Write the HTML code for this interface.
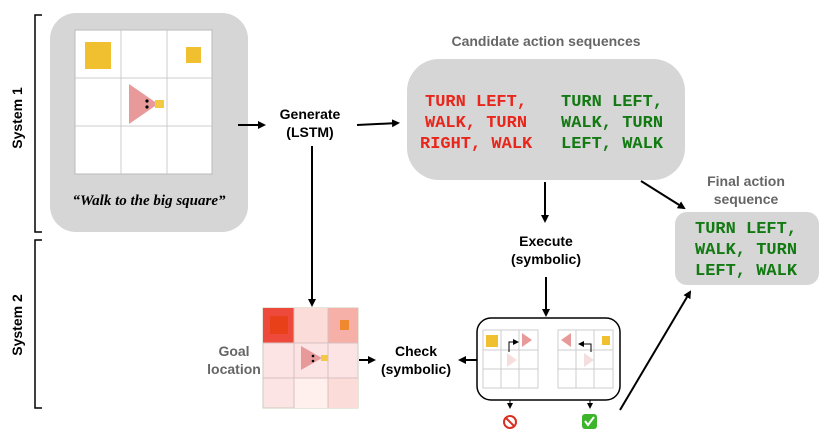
<!DOCTYPE html>
<html><head><style>body{margin:0;background:#fff}svg{display:block}</style></head><body>
<svg width="831" height="442" viewBox="0 0 831 442" xmlns="http://www.w3.org/2000/svg" font-family="Liberation Sans, sans-serif">
<defs><marker id="a" markerWidth="8" markerHeight="8" refX="6" refY="4" orient="auto" markerUnits="userSpaceOnUse"><path d="M0,0 L8,4 L0,8 z" fill="#000"/></marker>
<marker id="s" markerWidth="6" markerHeight="6" refX="5" refY="3" orient="auto" markerUnits="userSpaceOnUse"><path d="M0,0 L6,3 L0,6 z" fill="#000"/></marker></defs>
<path d="M42,15 H35 V232 H42" fill="none" stroke="#000" stroke-width="1.5"/>
<path d="M42,240 H35 V408 H42" fill="none" stroke="#000" stroke-width="1.5"/>
<text transform="translate(22,118) rotate(-90)" text-anchor="middle" font-weight="bold" font-size="14">System 1</text>
<text transform="translate(22,325) rotate(-90)" text-anchor="middle" font-weight="bold" font-size="14">System 2</text>
<rect x="50" y="13" width="198" height="219" rx="26" fill="#d6d6d6"/>
<rect x="75" y="30" width="137" height="144" fill="#fff" stroke="#bbb"/>
<path d="M121,30V174M167,30V174M75,78H212M75,126H212" stroke="#ccc"/>
<rect x="85" y="42" width="26" height="27" fill="#f0c030"/>
<rect x="186" y="47" width="15" height="16" fill="#f0c030"/>
<path d="M129,84 L158,104 L129,124 Z" fill="#e89a9a"/>
<rect x="155" y="100" width="9" height="8" fill="#f4c842"/>
<circle cx="147" cy="101" r="1.6"/><circle cx="147" cy="107" r="1.6"/>
<text x="149" y="205" text-anchor="middle" font-family="Liberation Serif, serif" font-style="italic" font-weight="bold" font-size="15">“Walk to the big square”</text>
<line x1="238" y1="125" x2="264" y2="125" stroke="#000" stroke-width="2" marker-end="url(#a)"/>
<text x="310" y="119" text-anchor="middle" font-weight="bold" font-size="14">Generate</text>
<text x="310" y="137" text-anchor="middle" font-weight="bold" font-size="14">(LSTM)</text>
<line x1="357" y1="125" x2="398" y2="123" stroke="#000" stroke-width="2" marker-end="url(#a)"/>
<line x1="312" y1="146" x2="312" y2="305" stroke="#000" stroke-width="2" marker-end="url(#a)"/>
<text x="546" y="46" text-anchor="middle" font-weight="bold" font-size="14" fill="#666">Candidate action sequences</text>
<rect x="407" y="59" width="278" height="121" rx="32" fill="#d6d6d6"/>
<rect x="675" y="212" width="144" height="73" rx="12" fill="#d6d6d6"/>
<g font-family="Liberation Mono, monospace" font-weight="bold" font-size="17">
<text fill="#e8261c"><tspan x="425" y="106">TURN LEFT,</tspan><tspan x="425" y="127">WALK, TURN</tspan><tspan x="420" y="148">RIGHT, WALK</tspan></text>
<text fill="#137a13"><tspan x="561" y="106">TURN LEFT,</tspan><tspan x="561" y="127">WALK, TURN</tspan><tspan x="561" y="148">LEFT, WALK</tspan></text>
<text fill="#137a13"><tspan x="695" y="233">TURN LEFT,</tspan><tspan x="695" y="254">WALK, TURN</tspan><tspan x="695" y="275">LEFT, WALK</tspan></text>
</g>
<line x1="545" y1="182" x2="545" y2="221" stroke="#000" stroke-width="2" marker-end="url(#a)"/>
<line x1="641" y1="181" x2="684" y2="208" stroke="#000" stroke-width="2" marker-end="url(#a)"/>
<text x="746" y="186" text-anchor="middle" font-weight="bold" font-size="14" fill="#666">Final action</text>
<text x="746" y="204" text-anchor="middle" font-weight="bold" font-size="14" fill="#666">sequence</text>
<text x="546" y="246" text-anchor="middle" font-weight="bold" font-size="14">Execute</text>
<text x="546" y="264" text-anchor="middle" font-weight="bold" font-size="14">(symbolic)</text>
<line x1="546" y1="277" x2="546" y2="315" stroke="#000" stroke-width="2" marker-end="url(#a)"/>
<rect x="477" y="318" width="143" height="82" rx="14" fill="#fff" stroke="#000" stroke-width="1.5"/>
<g stroke="#ccc" fill="none"><rect x="483" y="330" width="55" height="58"/><path d="M501,330V388M519,330V388M483,350H538M483,369H538"/>
<rect x="558" y="330" width="55" height="58"/><path d="M576,330V388M594,330V388M558,350H613M558,369H613"/></g>
<rect x="486" y="335" width="12" height="12" fill="#f0c030"/>
<path d="M522,333 L532,340 L522,347Z" fill="#e89a9a"/>
<path d="M507,353 L517,360 L507,367Z" fill="#f6dede"/>
<path d="M509,352 V342 H518" fill="none" stroke="#000" marker-end="url(#s)"/>
<path d="M571,333 L561,340 L571,347Z" fill="#e89a9a"/>
<path d="M584,353 L594,360 L584,367Z" fill="#f6dede"/>
<path d="M591,352 V344 H579" fill="none" stroke="#000" marker-end="url(#s)"/>
<rect x="602" y="336" width="8" height="9" fill="#f0c030"/>
<line x1="510" y1="400" x2="510" y2="408" stroke="#000" marker-end="url(#s)"/>
<line x1="590" y1="400" x2="590" y2="408" stroke="#000" marker-end="url(#s)"/>
<circle cx="510" cy="422" r="6" fill="none" stroke="#d83020" stroke-width="2"/><line x1="506" y1="418" x2="514" y2="426" stroke="#d83020" stroke-width="2"/>
<rect x="582" y="414" width="15" height="15" rx="3" fill="#3cb52a"/><path d="M585,421 L588,425 L594,417" fill="none" stroke="#fff" stroke-width="2"/>
<line x1="620" y1="410" x2="690" y2="292" stroke="#000" stroke-width="2" marker-end="url(#a)"/>
<rect x="263" y="308" width="95" height="100" fill="#fde4e4" stroke="#ccb"/>
<rect x="263" y="308" width="31" height="35" fill="#ee4a3c"/>
<rect x="270" y="316" width="18" height="18" fill="#e84018"/>
<rect x="294" y="308" width="34" height="35" fill="#fcdcd8"/>
<rect x="328" y="308" width="30" height="35" fill="#f7b0a8"/>
<rect x="340" y="320" width="9" height="10" fill="#f08830"/>
<rect x="294" y="343" width="34" height="35" fill="#fce4e4"/>
<rect x="294" y="378" width="34" height="30" fill="#fff0ee"/>
<rect x="328" y="378" width="30" height="30" fill="#fbdcd8"/>
<path d="M294,308V408M328,308V408M263,343H358M263,378H358" stroke="#d8c0c0"/>
<path d="M301,346 L322,358 L301,370Z" fill="#e89a9a"/>
<rect x="321" y="355" width="7" height="6" fill="#f4c842"/>
<circle cx="313" cy="356" r="1.3"/><circle cx="313" cy="361" r="1.3"/>
<text x="234" y="356" text-anchor="middle" font-weight="bold" font-size="14" fill="#666">Goal</text>
<text x="234" y="374" text-anchor="middle" font-weight="bold" font-size="14" fill="#666">location</text>
<line x1="359" y1="360" x2="374" y2="360" stroke="#000" stroke-width="2" marker-end="url(#a)"/>
<text x="416" y="356" text-anchor="middle" font-weight="bold" font-size="14">Check</text>
<text x="416" y="374" text-anchor="middle" font-weight="bold" font-size="14">(symbolic)</text>
<line x1="477" y1="360" x2="460" y2="360" stroke="#000" stroke-width="2" marker-end="url(#a)"/>
</svg>
</body></html>
